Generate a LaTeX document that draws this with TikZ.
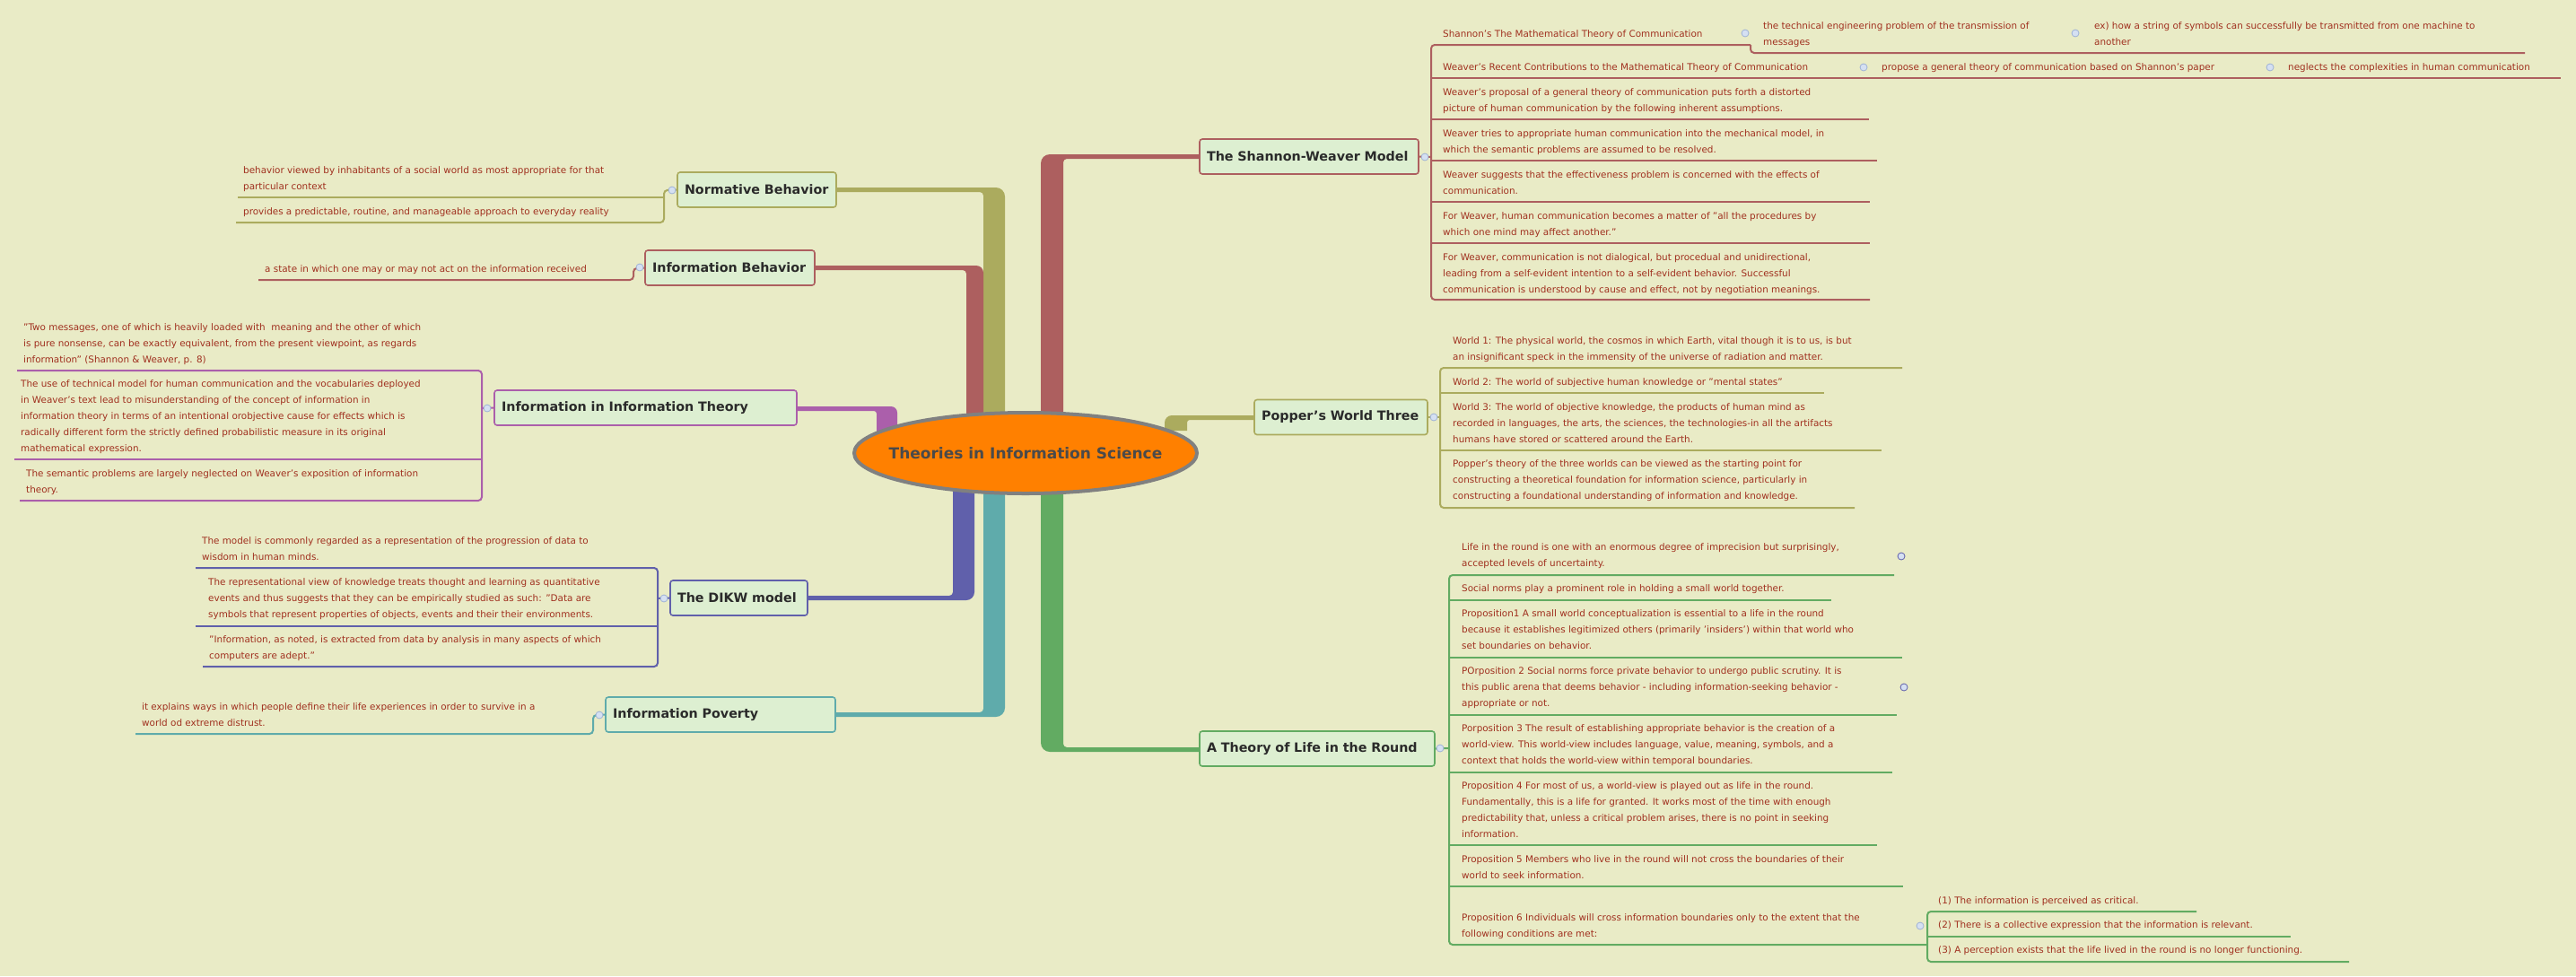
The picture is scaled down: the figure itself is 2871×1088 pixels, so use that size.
\documentclass[tikz,border=0pt]{standalone}
\usepackage{fontspec}
\usetikzlibrary{shapes.geometric}
\setmainfont{DejaVu Sans}
\definecolor{bg}{HTML}{E9EBC6}
\definecolor{cred}{HTML}{AD5F5F}
\definecolor{colive}{HTML}{ABAB5E}
\definecolor{cgreen}{HTML}{62AB62}
\definecolor{cpurple}{HTML}{AB5FAB}
\definecolor{cblue}{HTML}{6060AB}
\definecolor{cteal}{HTML}{5FABAB}
\definecolor{itemc}{HTML}{A0301F}
\definecolor{nodefill}{HTML}{DDEFD1}
\definecolor{darktxt}{HTML}{2A2A2A}
\definecolor{btnf}{HTML}{D5E0F2}
\definecolor{btnd}{HTML}{9FB2D6}
\definecolor{corange}{HTML}{FF8000}
\definecolor{cgray}{HTML}{808080}
\definecolor{ctitle}{HTML}{4A4A4A}
\tikzset{
 itm/.style={anchor=base west, inner sep=0, align=left, text=itemc, font=\fontsize{10.4}{18}\selectfont},
 topic/.style={draw, fill=nodefill, rounded corners=3, line width=1.6, font=\bfseries\fontsize{14.3}{16}\selectfont, text=darktxt, minimum height=39, inner xsep=8, align=left},
 ul/.style={line width=2, rounded corners=4},
 btn/.style={circle, draw=btnd, fill=btnf, minimum size=8, inner sep=0, line width=0.8},
}
\begin{document}
\begin{tikzpicture}[x=1pt,y=-1pt]
\fill[bg] (0,0) rectangle (2871,1088);
\useasboundingbox (0,0) rectangle (2871,1088);
% branches
\fill[cred] (1160,470) [rounded corners=10]-- (1160,172) [sharp corners]-- (1340,172) -- (1340,177) [rounded corners=4]-- (1185,177) [sharp corners]-- (1185,470) -- cycle;
\fill[colive] (1298,480) [rounded corners=8]-- (1298,463) [sharp corners]-- (1400,463) -- (1400,468) [rounded corners=3]-- (1323,468) [sharp corners]-- (1323,480) -- cycle;
\fill[cgreen] (1160,540) [rounded corners=10]-- (1160,838) [sharp corners]-- (1340,838) -- (1340,833) [rounded corners=4]-- (1185,833) [sharp corners]-- (1185,540) -- cycle;
\fill[colive] (1120,470) [rounded corners=10]-- (1120,209) [sharp corners]-- (930,209) -- (930,214) [rounded corners=4]-- (1096,214) [sharp corners]-- (1096,470) -- cycle;
\fill[cred] (1096,475) [rounded corners=8]-- (1096,296) [sharp corners]-- (906,296) -- (906,301) [rounded corners=4]-- (1077,301) [sharp corners]-- (1077,475) -- cycle;
\fill[cpurple] (1000,485) [rounded corners=7]-- (1000,453) [sharp corners]-- (886,453) -- (886,458) [rounded corners=3]-- (977,458) [sharp corners]-- (977,485) -- cycle;
\fill[cblue] (1086,535) [rounded corners=9]-- (1086,669) [sharp corners]-- (898,669) -- (898,664) [rounded corners=4]-- (1062,664) [sharp corners]-- (1062,535) -- cycle;
\fill[cteal] (1120,540) [rounded corners=10]-- (1120,799) [sharp corners]-- (929,799) -- (929,794) [rounded corners=4]-- (1096,794) [sharp corners]-- (1096,540) -- cycle;
% central
\coordinate (cc) at (1143,505);
\draw[cgray, fill=corange, line width=4] (cc) ellipse [x radius=191, y radius=45];
\node[inner sep=0, text=ctitle, font=\bfseries\fontsize{17}{18}\selectfont] (c) at (cc) {Theories in Information Science};
% topics
\node[topic, draw=cred, text width=228] (sw) at (1459,174.5) {\mbox{The Shannon-Weaver Model}};
\node[topic, draw=colive, text width=177] (pw) at (1494.5,465) {\mbox{Popper's World Three}};
\node[topic, draw=cgreen, text width=246] (lr) at (1468,834.5) {\mbox{A Theory of Life in the Round}};
\node[topic, draw=colive, text width=161] (nb) at (843.5,211.5) {\mbox{Normative Behavior}};
\node[topic, draw=cred, text width=173] (ib) at (813.5,298.5) {\mbox{Information Behavior}};
\node[topic, draw=cpurple, text width=321] (it) at (719.5,454.5) {\mbox{Information in Information Theory}};
\node[topic, draw=cblue, text width=137] (dk) at (823.5,666.5) {\mbox{The DIKW model}};
\node[topic, draw=cteal, text width=240] (ip) at (803,796.5) {\mbox{Information Poverty}};

% ---- Shannon-Weaver items
\draw[cred, line width=2] (sw.east) -- (1595,175);
\draw[cred, ul] (1951,50) -- (1595,50) -- (1595,334) -- (2084,334);
\draw[cred, ul] (1951,50) -- (1951,59) -- (2814,59);
\draw[cred, line width=2] (1595,87) -- (2854,87);
\draw[cred, line width=2] (1595,133) -- (2083,133);
\draw[cred, line width=2] (1595,179) -- (2092,179);
\draw[cred, line width=2] (1595,225) -- (2084,225);
\draw[cred, line width=2] (1595,271) -- (2084,271);
\node[itm] (s1) at (1608,41.5) {Shannon's The Mathematical Theory of Communication};
\node[itm] (s1a) at (1965,50.5) {the technical engineering problem of the transmission of\\messages};
\node[itm] (s1b) at (2334,50.5) {ex) how a string of symbols can successfully be transmitted from one machine to\\another};
\node[itm] (s2) at (1608,78.5) {Weaver's Recent Contributions to the Mathematical Theory of Communication};
\node[itm] (s2a) at (2097,78.5) {propose a general theory of communication based on Shannon's paper};
\node[itm] (s2b) at (2550,78.5) {neglects the complexities in human communication};
\node[itm] (s3) at (1608,124.5) {Weaver's proposal of a general theory of communication puts forth a distorted\\picture of human communication by the following inherent assumptions.};
\node[itm] (s4) at (1608,170.5) {Weaver tries to appropriate human communication into the mechanical model, in\\which the semantic problems are assumed to be resolved.};
\node[itm] (s5) at (1608,216.5) {Weaver suggests that the effectiveness problem is concerned with the effects of\\communication.};
\node[itm] (s6) at (1608,262.5) {For Weaver, human communication becomes a matter of "all the procedures by\\which one mind may affect another."};
\node[itm] (s7) at (1608,326.5) {For Weaver, communication is not dialogical, but procedual and unidirectional,\\leading from a self-evident intention to a self-evident behavior. Successful\\communication is understood by cause and effect, not by negotiation meanings.};
\node[btn] at (1588,175) {};
\node[btn] at (1945,37) {};
\node[btn] at (2313,37) {};
\node[btn] at (2077,75) {};
\node[btn] at (2530,75) {};

% ---- Popper items
\draw[colive, line width=2] (pw.east) -- (1605,465);
\draw[colive, ul] (2120,410) -- (1605,410) -- (1605,566) -- (2067,566);
\draw[colive, line width=2] (1605,438) -- (2033,438);
\draw[colive, line width=2] (1605,502) -- (2097,502);
\node[itm] (p1) at (1619,401.5) {World 1: The physical world, the cosmos in which Earth, vital though it is to us, is but\\an insignificant speck in the immensity of the universe of radiation and matter.};
\node[itm] (p2) at (1619,429.5) {World 2: The world of subjective human knowledge or "mental states"};
\node[itm] (p3) at (1619,493.5) {World 3: The world of objective knowledge, the products of human mind as\\recorded in languages, the arts, the sciences, the technologies-in all the artifacts\\humans have stored or scattered around the Earth.};
\node[itm] (p4) at (1619,556.5) {Popper's theory of the three worlds can be viewed as the starting point for\\constructing a theoretical foundation for information science, particularly in\\constructing a foundational understanding of information and knowledge.};
\node[btn] at (1598,465) {};

% ---- Life in the round items
\draw[cgreen, line width=2] (lr.east) -- (1615,834);
\draw[cgreen, ul] (2111,641) -- (1615,641) -- (1615,1053) -- (2148,1053);
\draw[cgreen, line width=2] (1615,669) -- (2041,669);
\draw[cgreen, line width=2] (1615,733) -- (2120,733);
\draw[cgreen, line width=2] (1615,797) -- (2114,797);
\draw[cgreen, line width=2] (1615,861) -- (2109,861);
\draw[cgreen, line width=2] (1615,942) -- (2092,942);
\draw[cgreen, line width=2] (1615,988) -- (2121,988);
\draw[cgreen, ul] (2448,1016) -- (2148,1016) -- (2148,1072) -- (2618,1072);
\draw[cgreen, line width=2] (2148,1044) -- (2553,1044);
\node[itm] (l1) at (1629,631.5) {Life in the round is one with an enormous degree of imprecision but surprisingly,\\accepted levels of uncertainty.};
\node[itm] (l2) at (1629,659.5) {Social norms play a prominent role in holding a small world together.};
\node[itm] (l3) at (1629,723.5) {Proposition1 A small world conceptualization is essential to a life in the round\\because it establishes legitimized others (primarily 'insiders') within that world who\\set boundaries on behavior.};
\node[itm] (l4) at (1629,787.5) {POrposition 2 Social norms force private behavior to undergo public scrutiny. It is\\this public arena that deems behavior - including information-seeking behavior -\\appropriate or not.};
\node[itm] (l5) at (1629,851.5) {Porposition 3 The result of establishing appropriate behavior is the creation of a\\world-view. This world-view includes language, value, meaning, symbols, and a\\context that holds the world-view within temporal boundaries.};
\node[itm] (l6) at (1629,933.5) {Proposition 4 For most of us, a world-view is played out as life in the round.\\Fundamentally, this is a life for granted. It works most of the time with enough\\predictability that, unless a critical problem arises, there is no point in seeking\\information.};
\node[itm] (l7) at (1629,979.5) {Proposition 5 Members who live in the round will not cross the boundaries of their\\world to seek information.};
\node[itm] (l8) at (1629,1044.5) {Proposition 6 Individuals will cross information boundaries only to the extent that the\\following conditions are met:};
\node[itm] (l8a) at (2160,1007.5) {(1) The information is perceived as critical.};
\node[itm] (l8b) at (2160,1034.5) {(2) There is a collective expression that the information is relevant.};
\node[itm] (l8c) at (2160,1062.5) {(3) A perception exists that the life lived in the round is no longer functioning.};
\node[btn] at (1605,834) {};
\node[btn] at (2140,1032) {};
\node[btn, draw=cblue] at (2119,620) {};
\node[btn, draw=cblue] at (2122,766) {};

% ---- Normative Behavior
\draw[colive, ul] (nb.west) -- (740,212) -- (740,248) -- (263,248);
\draw[colive, line width=2] (740,220) -- (265,220);
\node[itm] (n1) at (271,211.5) {behavior viewed by inhabitants of a social world as most appropriate for that\\particular context};
\node[itm] (n2) at (271,239.5) {provides a predictable, routine, and manageable approach to everyday reality};
\node[btn] at (749,212) {};

% ---- Information Behavior
\draw[cred, ul] (ib.west) -- (706,299) -- (706,312) -- (288,312);
\node[itm] (b1) at (295,303.5) {a state in which one may or may not act on the information received};
\node[btn] at (713,298) {};

% ---- Information in Information Theory
\draw[cpurple, line width=2] (it.west) -- (537,455);
\draw[cpurple, ul] (19,413) -- (537,413) -- (537,558) -- (22,558);
\draw[cpurple, line width=2] (537,512) -- (16,512);
\node[itm] (t1) at (26,404.5) {"Two messages, one of which is heavily loaded with \ meaning and the other of which\\is pure nonsense, can be exactly equivalent, from the present viewpoint, as regards\\information" (Shannon \& Weaver, p. 8)};
\node[itm] (t2) at (23,503.5) {The use of technical model for human communication and the vocabularies deployed\\in Weaver's text lead to misunderstanding of the concept of information in\\information theory in terms of an intentional orobjective cause for effects which is\\radically different form the strictly defined probabilistic measure in its original\\mathematical expression.};
\node[itm] (t3) at (29,549.5) {The semantic problems are largely neglected on Weaver's exposition of information\\theory.};
\node[btn] at (543,455) {};

% ---- DIKW
\draw[cblue, line width=2] (dk.west) -- (733,667);
\draw[cblue, ul] (218,633) -- (733,633) -- (733,743) -- (226,743);
\draw[cblue, line width=2] (733,698) -- (218,698);
\node[itm] (d1) at (225,624.5) {The model is commonly regarded as a representation of the progression of data to\\wisdom in human minds.};
\node[itm] (d2) at (232,688.5) {The representational view of knowledge treats thought and learning as quantitative\\events and thus suggests that they can be empirically studied as such: "Data are\\symbols that represent properties of objects, events and their their environments.};
\node[itm] (d3) at (233,734.5) {"Information, as noted, is extracted from data by analysis in many aspects of which\\computers are adept."};
\node[btn] at (740,667) {};

% ---- Information Poverty
\draw[cteal, ul] (ip.west) -- (661,797) -- (661,818) -- (151,818);
\node[itm] (v1) at (158,809.5) {it explains ways in which people define their life experiences in order to survive in a\\world od extreme distrust.};
\node[btn] at (668,797) {};
\end{tikzpicture}
\end{document}
